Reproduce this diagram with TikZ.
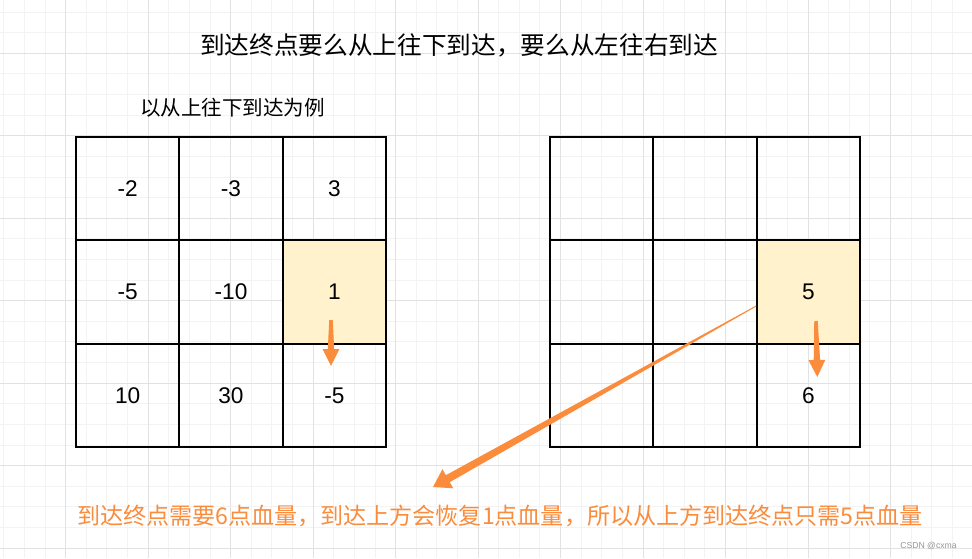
\documentclass[tikz,border=0pt]{standalone}
\usepackage{fontspec}
\setmainfont{Liberation Sans}
\newfontfamily\cjk{Noto Sans CJK SC}
\usetikzlibrary{calc}
\definecolor{orng}{RGB}{250,140,60}
\definecolor{cellyel}{RGB}{255,242,204}
\definecolor{gminor}{RGB}{243,243,243}
\definecolor{gmajor}{RGB}{226,226,226}
\definecolor{wmark}{RGB}{150,150,150}
% tapered arrow: #1 start, #2 tip, #3 start half width, #4 shaft end half width, #5 head length, #6 head half width
\newcommand\taparrow[6]{%
  \coordinate (tapH) at ($(#2)!#5!(#1)$);
  \fill[orng] ($(#1)!#3!90:(#2)$) -- ($(tapH)!#4!90:(#2)$) -- ($(tapH)!#6!90:(#2)$)
    -- (#2) -- ($(tapH)!#6!-90:(#2)$) -- ($(tapH)!#4!-90:(#2)$) -- ($(#1)!#3!-90:(#2)$) -- cycle;
}
\begin{document}
\begin{tikzpicture}[x=0.75pt,y=-0.75pt,
  cell/.style={draw=black,line width=1.5pt,minimum width=77.5pt,minimum height=77.5pt,
    inner sep=0pt,font=\fontsize{17}{19}\selectfont},
  hcell/.style={cell,fill=cellyel},
  titletext/.style={font=\cjk\fontsize{18.5}{20}\selectfont,inner sep=0pt},
  subtext/.style={font=\cjk\fontsize{15.4}{17}\selectfont,inner sep=0pt},
  notetext/.style={font=\cjk\fontsize{17.3}{19}\selectfont,text=orng,inner sep=0pt},
  wmtext/.style={font=\fontsize{6.5}{7}\selectfont,text=wmark,inner sep=0pt}]
\useasboundingbox (0,0) rectangle (972,558);
\fill[white] (0,0) rectangle (972,558);
% background grid
\foreach \k in {0,...,47}{
  \pgfmathsetmacro\xx{3.85+\k*20.62}
  \draw[gminor,line width=0.75pt] (\xx,0) -- (\xx,558);
}
\foreach \k in {0,...,26}{
  \pgfmathsetmacro\yy{12.06+\k*20.62}
  \draw[gminor,line width=0.75pt] (0,\yy) -- (972,\yy);
}
\foreach \k in {3,7,...,47}{
  \pgfmathsetmacro\xx{3.85+\k*20.62}
  \draw[gmajor,line width=0.75pt] (\xx,0) -- (\xx,558);
}
\foreach \k in {2,6,...,26}{
  \pgfmathsetmacro\yy{12.06+\k*20.62}
  \draw[gmajor,line width=0.75pt] (0,\yy) -- (972,\yy);
}
% texts
\node[titletext] (title) at (459,45) {到达终点要么从上往下到达，要么从左往右到达};
\node[subtext] (sub) at (232.5,108) {以从上往下到达为例};
% left table
\node[cell] (L11) at (127.67,188.67) {-2};
\node[cell] (L12) at (231,188.67) {-3};
\node[cell] (L13) at (334.33,188.67) {3};
\node[cell] (L21) at (127.67,292) {-5};
\node[cell] (L22) at (231,292) {-10};
\node[hcell] (L23) at (334.33,292) {1};
\node[cell] (L31) at (127.67,395.33) {10};
\node[cell] (L32) at (231,395.33) {30};
\node[cell] (L33) at (334.33,395.33) {-5};
% right table
\node[cell] (R11) at (601.67,188.67) {};
\node[cell] (R12) at (705,188.67) {};
\node[cell] (R13) at (808.33,188.67) {};
\node[cell] (R21) at (601.67,292) {};
\node[cell] (R22) at (705,292) {};
\node[hcell] (R23) at (808.33,292) {5};
\node[cell] (R31) at (601.67,395.33) {};
\node[cell] (R32) at (705,395.33) {};
\node[cell] (R33) at (808.33,395.33) {6};
% note and watermark
\node[notetext] (note) at (500,516) {到达终点需要6点血量，到达上方会恢复1点血量，所以从上方到达终点只需5点血量};
\node[wmtext,anchor=east] (wm) at (957,546) {CSDN @cxma};
% arrows
\coordinate (a1s) at (331,320);
\coordinate (a1t) at (331,366);
\coordinate (a2s) at (816,321);
\coordinate (a2t) at (817.3,377);
\coordinate (a3s) at ($(R23.west)+(0.5,14)$);
\coordinate (a3t) at (433,487);
\taparrow{a1s}{a1t}{1.3pt}{2.4pt}{12.75pt}{6.3pt}
\taparrow{a2s}{a2t}{1.3pt}{2.4pt}{12.75pt}{6.3pt}
\taparrow{a3s}{a3t}{0.35pt}{3pt}{12.75pt}{8.25pt}
\end{tikzpicture}
\end{document}
